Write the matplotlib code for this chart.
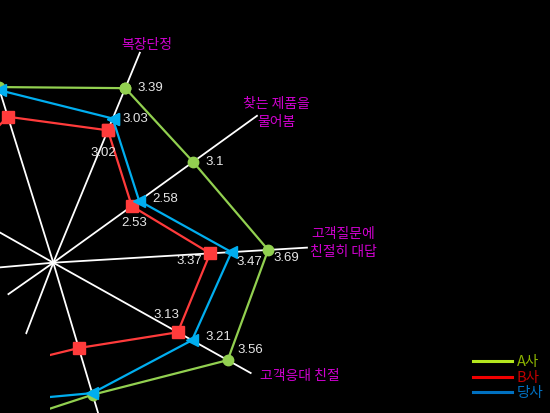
import numpy as np
import matplotlib
matplotlib.use("Agg")   # headless
import matplotlib.pyplot as plt
from matplotlib.patches import Polygon
from matplotlib.lines import Line2D

# ---- data (10-spoke radar, only the right part of it is in frame) ----
categories = ["복장단정", "찾는 제품을\n물어봄", "고객질문에\n친절히 대답", "고객응대 친절",
              "", "", "", "", "", ""]
# values (radial scale 1.5 .. 4)
company_a = [3.57, 3.21, 3.61, 3.70, 3.14, 3.42, 3.45, 3.50, 3.40, 3.69]
company_b = [3.07, 2.46, 3.04, 3.07, 2.56, 2.67, 3.00, 3.10, 3.05, 3.32]
our_company = [3.21, 2.55, 3.25, 3.25, 3.12, 3.11, 3.30, 3.35, 3.30, 3.65]
# data labels as printed next to the first four spokes
company_a_labels = ["3.39", "3.1", "3.69", "3.56"]
company_b_labels = ["3.02", "2.53", "3.37", "3.13"]
our_company_labels = ["3.03", "2.58", "3.47", "3.21"]
series_names = ["A사", "B사", "당사"]

R_MIN, R_MAX = 1.5, 4.0

# ---- layout: the radar is seen skewed, so each spoke has its own
# on-screen direction (deg, counter-clockwise) and length (px) ----
CENTER = (53.3, 262.7)
spoke_angle = np.deg2rad([67.6, 35.8, 3.4, -29.2, -73.4, -111.0, -145.0, -175.0, 150.5, 107.3])
spoke_len = np.array([228, 252, 255, 227, 210, 231, 256, 253, 225, 210])

# ---- styling ----
BG = "black"
KO_FONT = ["Noto Sans CJK KR", "DejaVu Sans"]
NUM_FONT = ["Liberation Sans Narrow", "Liberation Sans", "DejaVu Sans"]
CAT_COLOR = "#D000D0"
series_style = [
    dict(color="#92D050", marker="o", ms=7.5),
    dict(color="#FF3B3B", marker="s", ms=8),
    dict(color="#00AEEF", marker="<", ms=8.5),
]
legend_line_colors = ["#B4E61E", "#F00000", "#0070C0"]
legend_text_colors = ["#8CB400", "#C00000", "#0070C0"]

# label offsets (pixels, x right / y down) and alignment
label_offsets = [
    [(12, 0, "left"), (12, 0, "left"), (5, 8, "left"), (10, -10, "left")],
    [(-5, 23, "center"), (2, 17, "center"), (-8, 8, "right"), (-11, -17, "center")],
    [(10, 0, "left"), (13, -2, "left"), (5, 10, "left"), (13, -3, "left")],
]
cat_offsets = [(7, -6.5, "center"), (19, -2, "center"), (2, -4.5, "left"), (9, 3, "left")]


def to_px(k, r):
    """Radar position (spoke index, radius 0..1) -> pixel coordinates."""
    k = np.asarray(k)
    r = np.asarray(r, dtype=float)
    x = CENTER[0] + r * spoke_len[k] * np.cos(spoke_angle[k])
    y = CENTER[1] - r * spoke_len[k] * np.sin(spoke_angle[k])
    return x, y


fig = plt.figure(figsize=(5.5, 4.13), dpi=100, facecolor=BG)
ax = fig.add_axes([0, 0, 1, 1])
ax.set_facecolor(BG)
ax.set_xlim(0, 550)
ax.set_ylim(413, 0)
ax.axis("off")

n = len(categories)
idx = np.arange(n)

# spokes
for k in idx:
    sx, sy = to_px([k, k], [0, 1])
    ax.plot(sx, sy, color="white", lw=1.3, zorder=1, solid_capstyle="butt")

# category names
for k, name in enumerate(categories):
    if not name:
        continue
    dx, dy, ha = cat_offsets[k]
    ax.annotate(name, xy=to_px(k, 1.0), xytext=(dx, -dy),
                textcoords="offset pixels", ha=ha, va="center",
                multialignment="center", color=CAT_COLOR, fontsize=10,
                family=KO_FONT, linespacing=1.33, zorder=6)

# series
all_series = [company_a, company_b, our_company]
all_labels = [company_a_labels, company_b_labels, our_company_labels]
for s, (vals, style) in enumerate(zip(all_series, series_style)):
    r = (np.array(vals) - R_MIN) / (R_MAX - R_MIN)
    loop = np.append(idx, 0)
    x, y = to_px(loop, r[loop])
    ax.plot(x, y, color=style["color"], lw=1.6, marker=style["marker"],
            ms=style["ms"], mec=style["color"], mfc=style["color"], zorder=2 + s)
    for k, text in enumerate(all_labels[s]):
        dx, dy, ha = label_offsets[s][k]
        ax.annotate(text, xy=(x[k], y[k]), xytext=(dx, -dy),
                    textcoords="offset pixels", ha=ha, va="center",
                    color="#E6E6E6", fontsize=9.5, family=NUM_FONT, zorder=6)

# lower-left corner of the source image is blank
ax.add_patch(Polygon([(0, 285), (8, 295), (23, 332), (50, 350), (50, 413), (0, 413)],
                     closed=True, facecolor=BG, edgecolor="none", zorder=5))

handles = [Line2D([], [], color=c, lw=2.2) for c in legend_line_colors]
leg = ax.legend(handles, series_names, loc="upper left",
                bbox_to_anchor=(473 / 550, 1 - 355 / 413), frameon=False,
                handlelength=2.7, handletextpad=0.3, labelspacing=0.12,
                borderpad=0, borderaxespad=0, labelcolor=legend_text_colors,
                prop={"family": KO_FONT, "size": 10.5})
leg.set_zorder(7)

fig.savefig("out.png", dpi=100, facecolor=BG)
